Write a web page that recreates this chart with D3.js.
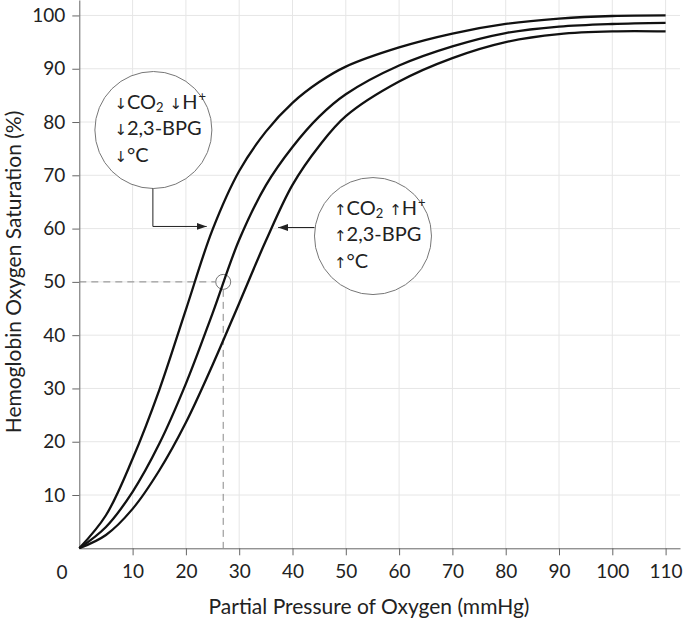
<!DOCTYPE html>
<html>
<head>
<meta charset="utf-8">
<script src="https://cdn.jsdelivr.net/npm/d3@7"></script>
<style>
  body { margin: 0; background: #fff; }
  text { font-family: Lato, "Noto Sans", sans-serif; fill: #222; }
</style>
</head>
<body>
<svg id="chart" width="685" height="622"></svg>
<script>
// values
var pO2 = [0, 5, 10, 15, 20, 25, 30, 35, 40, 45, 50, 60, 70, 80, 90, 100, 110];
var satLeft  = [0, 6.2, 16.8, 29.7, 44.8, 59.8, 70.8, 78.2, 83.6, 87.5, 90.4, 94.0, 96.6, 98.4, 99.4, 99.9, 100];
var satMid   = [0, 4.0, 10.6, 19.6, 30.9, 44.1, 57.9, 68.1, 75.3, 81.0, 85.2, 90.6, 94.2, 96.7, 97.9, 98.4, 98.6];
var satRight = [0, 2.5, 7.4, 14.6, 23.6, 34.4, 46.0, 57.7, 68.2, 75.5, 81.1, 87.6, 92.0, 95.0, 96.5, 97.0, 97.0];
var xTicks = [0, 10, 20, 30, 40, 50, 60, 70, 80, 90, 100, 110];
var yTicks = [10, 20, 30, 40, 50, 60, 70, 80, 90, 100];
var p50 = 27, s50 = 50;
var leftNote = [["↓", "CO", "2", "↓", "H", "+"], ["↓", "2,3-BPG"], ["↓", "°C"]];
var rightNote = [["↑", "CO", "2", "↑", "H", "+"], ["↑", "2,3-BPG"], ["↑", "°C"]];
// bubble anchors in data units: circle centre, arrow target
var leftBubble = {cx: 13.9, cy: 78.5, tx: 23.9, ty: 60.4};
var rightBubble = {cx: 55.1, cy: 58.6, tx: 37.3, ty: 60.2};

var svg = d3.select("#chart");
var x = d3.scaleLinear().domain([0, 112.7]).range([79.3, 680]);
var y = d3.scaleLinear().domain([0, 102.9]).range([548.3, 0]);

svg.append("defs").append("marker")
    .attr("id", "arr").attr("viewBox", "0 0 10 10")
    .attr("refX", 10).attr("refY", 5)
    .attr("markerWidth", 10).attr("markerHeight", 10)
    .attr("markerUnits", "userSpaceOnUse")
    .attr("orient", "auto")
  .append("path").attr("d", "M0,1.5L10,5L0,8.5Z").attr("fill", "#222");

// grid
svg.append("g").selectAll("line").data(xTicks.slice(1)).enter().append("line")
    .attr("x1", function(d) { return x(d); }).attr("x2", function(d) { return x(d); })
    .attr("y1", y(0)).attr("y2", 0)
    .attr("stroke", "#e6e6e6").attr("stroke-width", 1);
svg.append("g").selectAll("line").data(yTicks).enter().append("line")
    .attr("x1", x(0)).attr("x2", 680)
    .attr("y1", function(d) { return y(d); }).attr("y2", function(d) { return y(d); })
    .attr("stroke", "#e6e6e6").attr("stroke-width", 1);

// axes
var xAxis = svg.append("g").attr("transform", "translate(0," + y(0) + ")")
    .call(d3.axisBottom(x).tickValues(xTicks.slice(1)).tickSize(7).tickPadding(9).tickSizeOuter(0));
var yAxis = svg.append("g").attr("transform", "translate(" + x(0) + ",0)")
    .call(d3.axisLeft(y).tickValues(yTicks).tickSize(7).tickPadding(7).tickSizeOuter(0));
[xAxis, yAxis].forEach(function(a) {
    a.select(".domain").attr("stroke", "#666");
    a.selectAll(".tick line").attr("stroke", "#666");
    a.selectAll(".tick text").style("font-family", "Lato, sans-serif").style("font-size", "19px").attr("fill", "#222");
});
// the "0" sits under the y axis labels
svg.append("text").attr("x", 62).attr("y", 579).attr("text-anchor", "middle")
    .style("font-size", "19px").text(xTicks[0]);

svg.append("text").attr("x", 369).attr("y", 614).attr("text-anchor", "middle")
    .style("font-size", "21px").text("Partial Pressure of Oxygen (mmHg)");
svg.append("text").attr("transform", "translate(21,272) rotate(-90)").attr("text-anchor", "middle")
    .style("font-size", "21px").text("Hemoglobin Oxygen Saturation (%)");

// P50 guide
svg.append("path")
    .attr("d", "M" + x(0) + "," + y(s50) + "H" + (x(p50) - 8) + "M" + x(p50) + "," + (y(s50) + 8) + "V" + y(0))
    .attr("fill", "none").attr("stroke", "#888").attr("stroke-width", 1).attr("stroke-dasharray", "7,5");
svg.append("circle").attr("cx", x(p50)).attr("cy", y(s50)).attr("r", 7.5)
    .attr("fill", "none").attr("stroke", "#777").attr("stroke-width", 1);

// curves
var line = d3.line()
    .x(function(d) { return x(d[0]); })
    .y(function(d) { return y(d[1]); })
    .curve(d3.curveCatmullRom.alpha(0.5));
[satLeft, satMid, satRight].forEach(function(s) {
    svg.append("path").datum(d3.zip(pO2, s))
        .attr("d", line).attr("fill", "none")
        .attr("stroke", "#111").attr("stroke-width", 2.3);
});

// bubbles
function bubble(b, lines, connector) {
    var cx = x(b.cx), cy = y(b.cy), r = 58.5;
    svg.append("circle").attr("cx", cx).attr("cy", cy).attr("r", r)
        .attr("fill", "#fff").attr("stroke", "#777").attr("stroke-width", 1);
    var offs = [-21, 5, 32];
    lines.forEach(function(parts, i) {
        var t = svg.append("text").attr("x", cx - 39).attr("y", cy + offs[i])
            .style("font-size", "20px");
        parts.forEach(function(p, j) {
            var ts = t.append("tspan").text(p);
            if (p === "↓" || p === "↑") {
                ts.style("font-family", "DejaVu Sans").style("font-size", "15px");
                if (j > 0) ts.attr("dx", 6).attr("dy", -3);
            } else if (p === "2" && parts[j - 1] === "CO") {
                ts.attr("dy", 3).style("font-size", "13px");
            } else if (p === "+") {
                ts.attr("dx", 1).attr("dy", -8).style("font-size", "13px");
            }
        });
    });
    svg.append("path").attr("d", connector(cx, cy, r))
        .attr("fill", "none").attr("stroke", "#222").attr("stroke-width", 1)
        .attr("marker-end", "url(#arr)");
}
bubble(leftBubble, leftNote, function(cx, cy, r) {
    return "M" + (cx - 0.5) + "," + (cy + r) + "V" + y(leftBubble.ty) + "H" + x(leftBubble.tx);
});
bubble(rightBubble, rightNote, function(cx, cy, r) {
    return "M" + (cx - r) + "," + y(rightBubble.ty) + "H" + x(rightBubble.tx);
});
</script>
</body>
</html>
